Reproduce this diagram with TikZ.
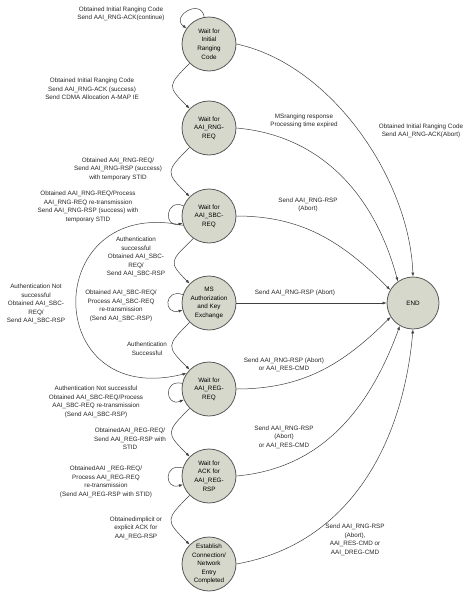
\documentclass[tikz,border=0pt]{standalone}
\usepackage{fontspec}
\setmainfont{Liberation Sans}
\usetikzlibrary{arrows.meta}
\definecolor{statefill}{RGB}{213,216,203}
\newcommand{\lblfont}{\fontsize{6.3}{8.6}\selectfont}

\begin{document}
\begin{tikzpicture}[x=1pt, y=1pt,
    state/.style={circle, draw=black!65, fill=statefill, line width=0.8pt, minimum size=54pt, inner sep=0pt, align=center, font=\lblfont},
    lbl/.style={align=center, font=\lblfont, text=black!85, inner sep=0pt},
    tr/.style={draw=black!75, line width=0.5pt, -{Latex[length=4pt,width=3pt]}},
    selfloop/.style={tr, min distance=20pt}]
    \useasboundingbox (0,0) rectangle (474,-592);
    % states
    \node[state] (s1) at (209,-44) {Wait for\\Initial\\Ranging\\Code};
    \node[state] (s2) at (209,-128) {Wait for\\AAI\_RNG-\\REQ};
    \node[state] (s3) at (209,-216) {Wait for\\AAI\_SBC-\\REQ};
    \node[state] (s4) at (209,-303) {MS\\Authorization\\and Key\\Exchange};
    \node[state] (s5) at (209,-389) {Wait for\\AAI\_REG-\\REQ};
    \node[state] (s6) at (209,-476) {Wait for\\ACK for\\AAI\_REG-\\RSP};
    \node[state] (s7) at (209,-564) {Establish\\Connection/\\Network\\Entry\\Completed};
    \node[state, minimum size=52pt] (fin) at (413,-303) {END};
    % left side
    \draw[selfloop] (s1.100) to[out=100, in=145] (s1.145);
    \draw[tr] (s1.225) to[out=225, in=135, looseness=1.8] (s2.135);
    \draw[tr] (s2.225) to[out=225, in=135, looseness=1.8] (s3.135);
    \draw[selfloop] (s3.158) to[out=158, in=195] (s3.195);
    \draw[tr] (s3.235) to[out=225, in=135, looseness=1.8] (s4.135);
    \draw[tr] (s3.200) .. controls (40,-195) and (40,-410) .. (s5.145);
    \draw[selfloop] (s4.162) to[out=162, in=195] (s4.195);
    \draw[tr] (s4.225) to[out=225, in=135, looseness=1.8] (s5.135);
    \draw[selfloop] (s5.168) to[out=168, in=203] (s5.203);
    \draw[tr] (s5.225) to[out=225, in=135, looseness=1.8] (s6.135);
    \draw[selfloop] (s6.163) to[out=163, in=198] (s6.198);
    \draw[tr] (s6.225) to[out=225, in=135, looseness=1.8] (s7.135);
    % right side, towards END
    \draw[tr] (s1.east) to[out=-12, in=92, looseness=0.85] (fin.north);
    \draw[tr] (s2.east) to[out=-5, in=105] (fin.125);
    \draw[tr] (s3.east) to[out=0, in=135] (fin.150);
    \draw[tr] (s4.east) -- (fin.west);
    \draw[tr] (s5.east) to[out=0, in=225] (fin.212);
    \draw[tr] (s6.east) to[out=5, in=250] (fin.240);
    \draw[tr] (s7.east) to[out=10, in=265] (fin.south);
    % labels
    \node[lbl] (l11) at (121,-14) {Obtained Initial Ranging Code\\Send AAI\_RNG-ACK(continue)};
    \node[lbl] (l12) at (92,-89) {Obtained Initial Ranging Code\\Send AAI\_RNG-ACK (success)\\Send CDMA Allocation A-MAP IE};
    \node[lbl] (l23) at (118,-169) {Obtained AAI\_RNG-REQ/\\Send AAI\_RNG-RSP (success)\\with temporary STID};
    \node[lbl] (l33) at (88,-207) {Obtained AAI\_RNG-REQ/Process\\AAI\_RNG-REQ re-transmission\\Send AAI\_RNG-RSP (success) with\\temporary STID};
    \node[lbl] (l34) at (136,-257) {Authentication\\successful\\Obtained AAI\_SBC-\\REQ/\\Send AAI\_SBC-RSP};
    \node[lbl] (l35) at (36,-304) {Authentication Not\\successful\\Obtained AAI\_SBC-\\REQ/\\Send AAI\_SBC-RSP};
    \node[lbl] (l44) at (121,-306) {Obtained AAI\_SBC-REQ/\\Process AAI\_SBC-REQ\\re-transmission\\(Send AAI\_SBC-RSP)};
    \node[lbl] (l45) at (147,-349) {Authentication\\Successful};
    \node[lbl] (l55) at (96,-402) {Authentication Not successful\\Obtained AAI\_SBC-REQ/Process\\AAI\_SBC-REQ re-transmission\\(Send AAI\_SBC-RSP)};
    \node[lbl] (l56) at (130,-439) {ObtainedAAI\_REG-REQ/\\Send AAI\_REG-RSP with\\STID};
    \node[lbl] (l66) at (106,-482) {ObtainedAAI \_REG-REQ/\\Process AAI\_REG-REQ\\re-transmission\\(Send AAI\_REG-RSP with STID)};
    \node[lbl] (l67) at (136,-528) {Obtainedimplicit or\\explicit ACK for\\AAI\_REG-RSP};
    \node[lbl] (l1e) at (421,-131) {Obtained Initial Ranging Code\\Send AAI\_RNG-ACK(Abort)};
    \node[lbl] (l2e) at (304,-121) {MSranging response\\Processing time expired};
    \node[lbl] (l3e) at (308,-205) {Send AAI\_RNG-RSP\\(Abort)};
    \node[lbl] (l4e) at (295,-293) {Send AAI\_RNG-RSP (Abort)};
    \node[lbl] (l5e) at (284,-365) {Send AAI\_RNG-RSP (Abort)\\or AAI\_RES-CMD};
    \node[lbl] (l6e) at (284,-437) {Send AAI\_RNG-RSP\\(Abort)\\or AAI\_RES-CMD};
    \node[lbl] (l7e) at (355,-540) {Send AAI\_RNG-RSP\\(Abort),\\AAI\_RES-CMD or\\AAI\_DREG-CMD};
\end{tikzpicture}
\end{document}
